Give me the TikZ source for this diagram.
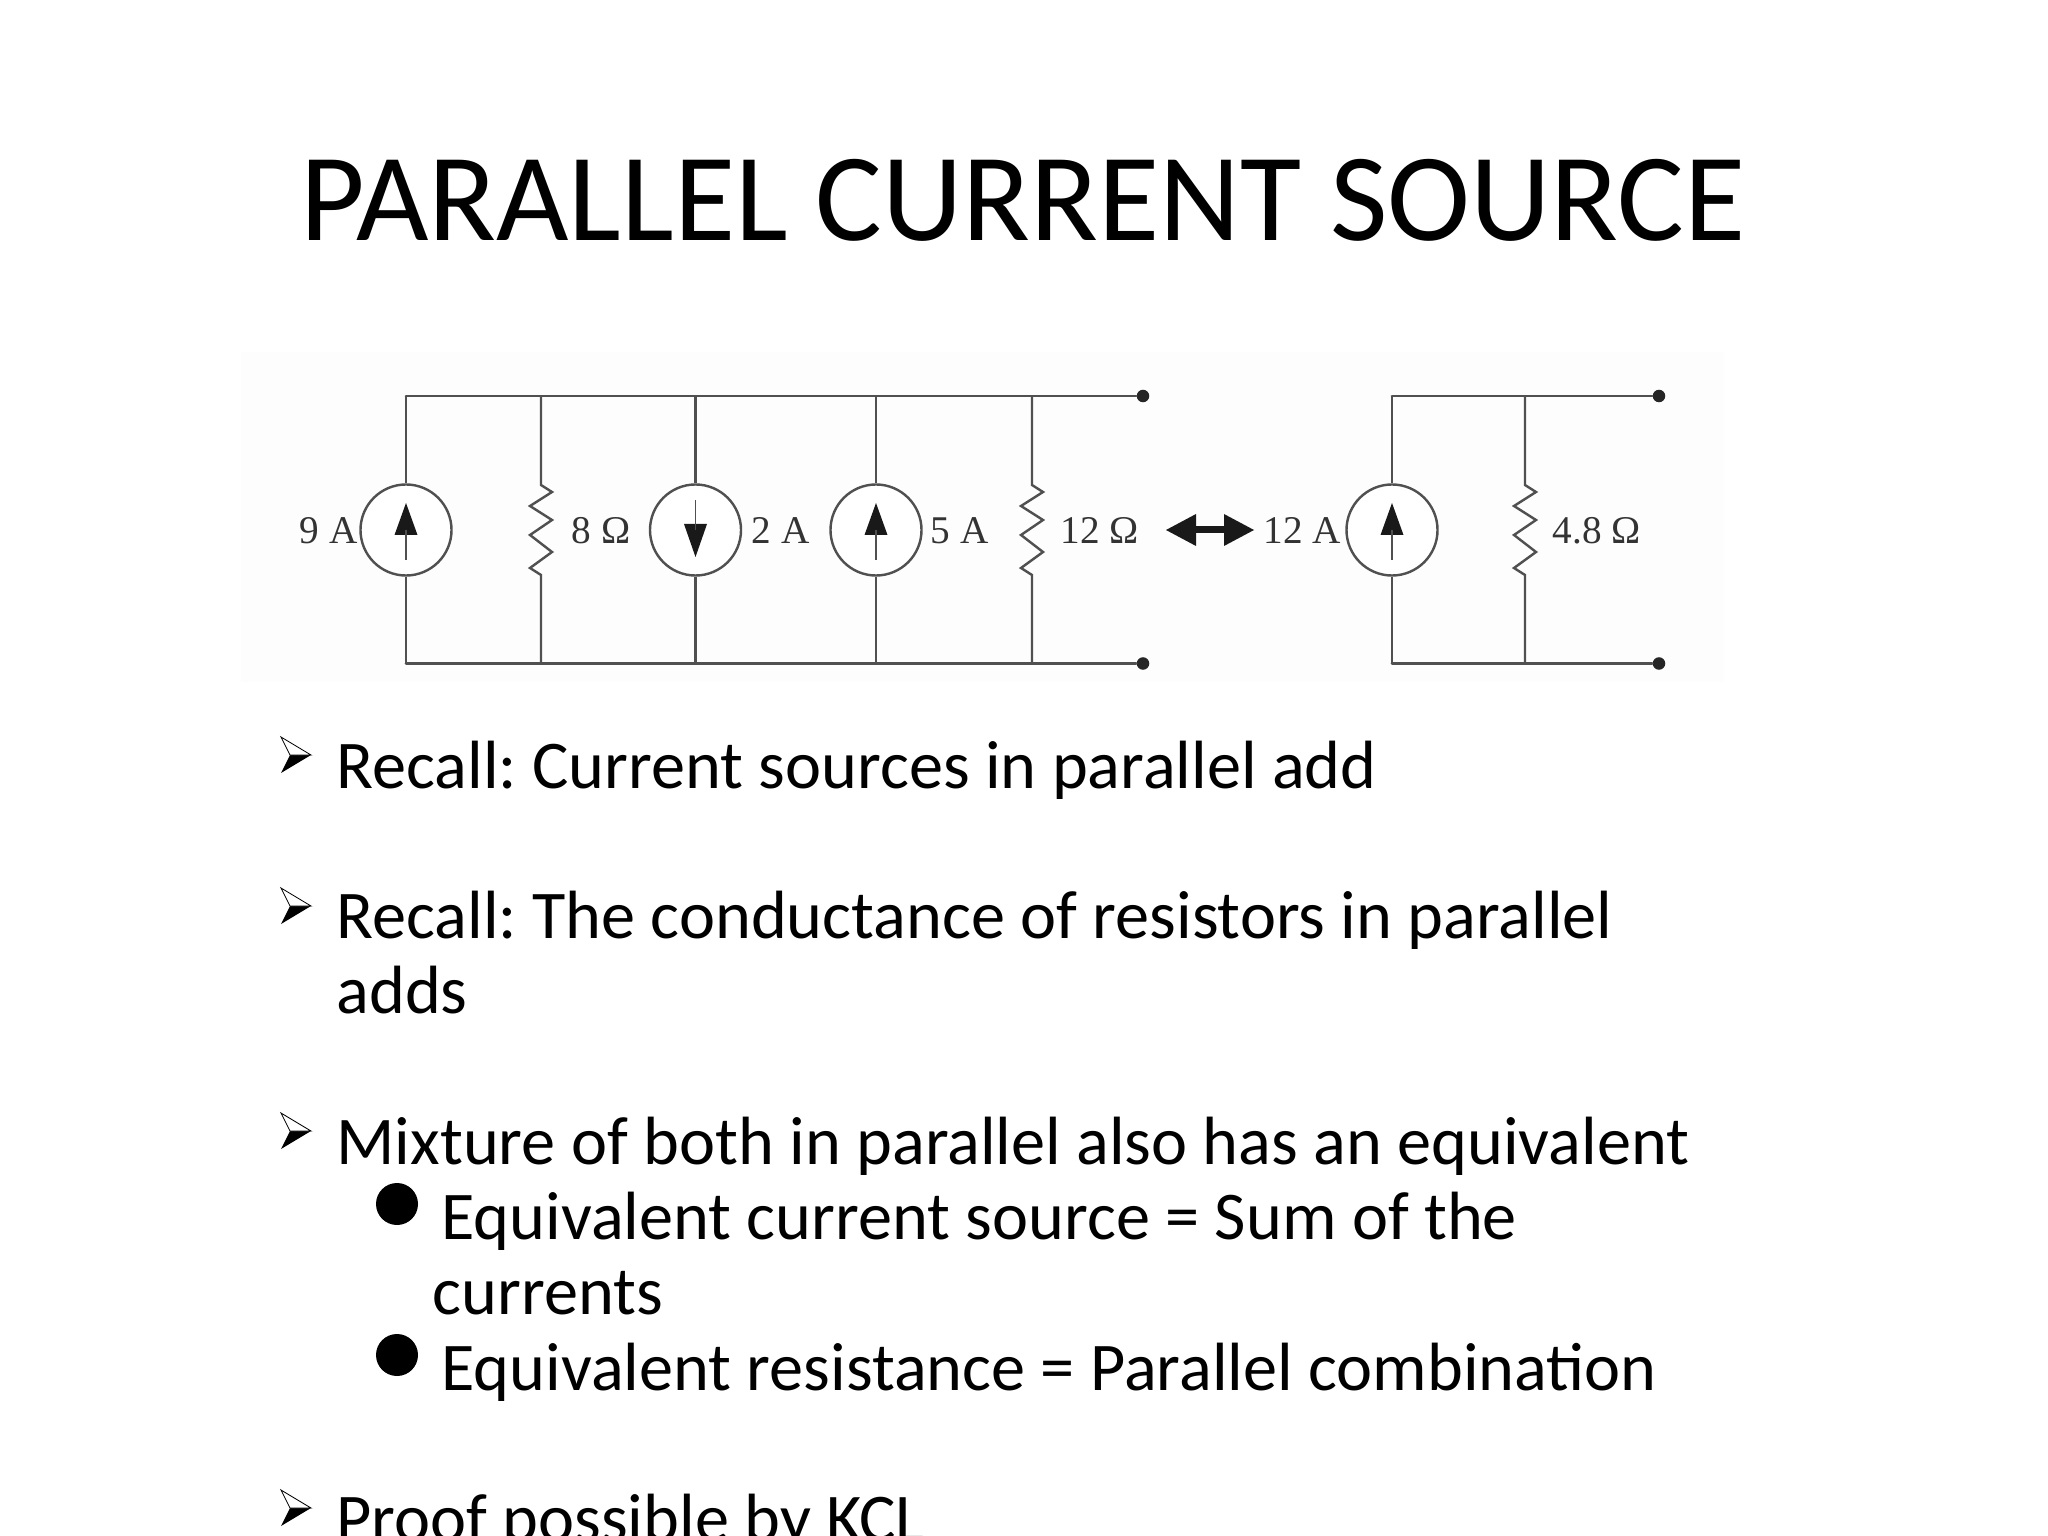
\documentclass[tikz,border=0pt]{standalone}
\usepackage{fontspec}
\setmainfont{Carlito}
\newfontfamily\circfont{Liberation Serif}
\frenchspacing
\definecolor{wire}{HTML}{505050}
\definecolor{circtext}{HTML}{333333}
\definecolor{photobg}{HTML}{FDFDFD}
\newcommand{\rzig}{-- ++(11,7) -- ++(-22,14) -- ++(22,14) -- ++(-22,15) -- ++(22,17) -- ++(-22,16) -- ++(11,7)}
\newcommand{\arrowbullet}[1]{%
  \fill[black] (281,#1-14) -- (311,#1-32) -- (290,#1-32) -- cycle;
  \draw[black,line width=.3pt,fill=white] (281,#1-50) -- (311,#1-32) -- (290,#1-32) -- cycle;}
\tikzset{
  wirethin/.style={draw=wire,line width=.85pt},
  wirebus/.style={draw=wire,line width=1.05pt,line cap=round},
  source/.style={circle,draw=wire,fill=white,line width=.85pt,minimum size=32pt,inner sep=0pt},
  term/.style={circle,fill=black!85,minimum size=4.4pt,inner sep=0pt},
  tip/.style={fill=black!90},
  clabel/.style={anchor=base west,inner sep=0pt,text=circtext,font=\circfont\fontsize{13.8}{16}\selectfont},
  body/.style={anchor=base west,inner sep=0pt,text=black,font=\fontsize{24}{29}\selectfont},
  heading/.style={anchor=base,inner sep=0pt,text=black,font=\fontsize{44}{53}\selectfont},
}
\begin{document}
\begin{tikzpicture}[x=.3515625pt,y=-.3515625pt]
\useasboundingbox (0,0) rectangle (2048,1536);
\clip (0,0) rectangle (2048,1536);
\fill[white] (0,0) rectangle (2048,1536);
\fill[photobg] (241,352) rectangle (1724,682);

\node[heading] (title) at (1023,240.5) {PARALLEL CURRENT SOURCE};

% left circuit
\coordinate (t1) at (406,396); \coordinate (b1) at (406,663.5);
\coordinate (t2) at (541,396); \coordinate (b2) at (541,663.5);
\coordinate (t3) at (695.5,396); \coordinate (b3) at (695.5,663.5);
\coordinate (t4) at (876,396); \coordinate (b4) at (876,663.5);
\coordinate (t5) at (1032,396); \coordinate (b5) at (1032,663.5);
\coordinate (r2t) at (541,485); \coordinate (r2b) at (541,575);
\coordinate (r5t) at (1032,485); \coordinate (r5b) at (1032,575);
\node[term] (tl) at (1143,396) {};
\node[term] (bl) at (1143,663.5) {};
\node[source] (s1) at (406,530) {};
\node[source] (s3) at (695.5,530) {};
\node[source] (s4) at (876,530) {};
\draw[wirebus] (t1) -- (tl);
\draw[wirebus] (b1) -- (bl);
\draw[wirethin] (t1) -- (s1) (s1) -- (b1);
\draw[wirethin] (t3) -- (s3) (s3) -- (b3);
\draw[wirethin] (t4) -- (s4) (s4) -- (b4);
\draw[wirethin] (t2) -- (r2t) \rzig -- (b2);
\draw[wirethin] (t5) -- (r5t) \rzig -- (b5);

% right circuit
\coordinate (t6) at (1392,396); \coordinate (b6) at (1392,663.5);
\coordinate (t7) at (1525,396); \coordinate (b7) at (1525,663.5);
\coordinate (r7t) at (1525,485); \coordinate (r7b) at (1525,575);
\node[term] (tr) at (1659,396) {};
\node[term] (br) at (1659,663.5) {};
\node[source] (s6) at (1392,530) {};
\draw[wirebus] (t6) -- (tr);
\draw[wirebus] (b6) -- (br);
\draw[wirethin] (t6) -- (s6) (s6) -- (b6);
\draw[wirethin] (t7) -- (r7t) \rzig -- (b7);

% arrows in the sources
\foreach \cx in {406,876,1392}{
  \fill[tip] (\cx,503) -- (\cx+11.5,535) -- (\cx-11.5,535) -- cycle;
  \draw[wire,line width=.6pt] (\cx,530) -- (\cx,560);
}
\fill[tip] (695.5,557) -- (695.5+11.5,524) -- (695.5-11.5,524) -- cycle;
\draw[wire,line width=.6pt] (695.5,500) -- (695.5,530);

% labels
\node[clabel] (l9a) at (299,544) {9 A};
\node[clabel] (l8o) at (571,544) {8 Ω};
\node[clabel] (l2a) at (751,544) {2 A};
\node[clabel] (l5a) at (930,544) {5 A};
\node[clabel] (l12o) at (1060,544) {12 Ω};
\node[clabel] (l12a) at (1263,544) {12 A};
\node[clabel] (l48o) at (1552,544) {4.8 Ω};

% double arrow
\fill[tip] (1166,530) -- (1196,514) -- (1196,546) -- cycle;
\fill[tip] (1254,530) -- (1224,514) -- (1224,546) -- cycle;
\fill[tip] (1190,526.5) rectangle (1230,533.5);

% text
\arrowbullet{787}
\node[body] (p1) at (336,788) {Recall: Current sources in parallel add};
\arrowbullet{938}
\node[body] (p2) at (336,938) {Recall: The conductance of resistors in parallel};
\node[body] (p2b) at (336,1013) {adds};
\arrowbullet{1163}
\node[body] (p3) at (336,1164) {Mixture of both in parallel also has an equivalent};
\fill[black] (397,1204) circle (21);
\node[body] (p3a) at (441,1239) {Equivalent current source = Sum of the};
\node[body] (p3b) at (432,1314) {currents};
\fill[black] (397,1355) circle (21);
\node[body] (p3c) at (441,1390) {Equivalent resistance = Parallel combination};
\arrowbullet{1540}
\node[body] (p4) at (336,1541) {Proof possible by KCL};
\end{tikzpicture}
\end{document}
